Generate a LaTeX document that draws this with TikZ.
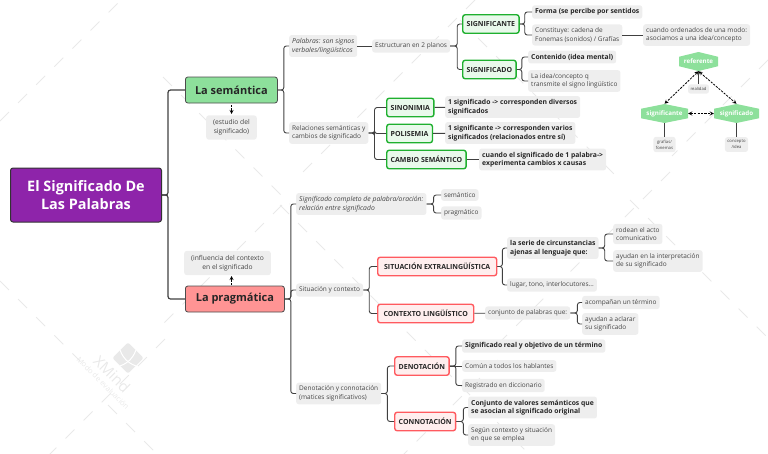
\documentclass[tikz,border=0pt]{standalone}
\usepackage{fontspec}
\setmainfont{Open Sans}
\usetikzlibrary{calc}
\definecolor{rootpurple}{HTML}{8E24AA}
\definecolor{maingreen}{HTML}{8DE09B}
\definecolor{mainred}{HTML}{FF9494}
\definecolor{subgreen}{HTML}{1FB02F}
\definecolor{subgreenfill}{HTML}{E9F9EB}
\definecolor{subred}{HTML}{FF5A5F}
\definecolor{subredfill}{HTML}{FFEEEE}
\definecolor{notegray}{HTML}{EEEEEE}
\definecolor{inkgray}{HTML}{444444}
\definecolor{markgray}{HTML}{E9E9E9}
\tikzset{
  rootbox/.style={anchor=west,draw=black!80,line width=1pt,fill=rootpurple,rounded corners=2.5pt,text=white,align=center,font=\fontsize{14.4}{18}\selectfont\bfseries,minimum width=151pt,minimum height=54pt},
  mainbox/.style={anchor=west,draw=black!70,line width=.8pt,rounded corners=2.5pt,text=black!85,font=\fontsize{11}{13}\selectfont\bfseries,minimum height=26pt},
  subbox/.style={anchor=west,line width=1.4pt,rounded corners=2.5pt,text=black!85,font=\fontsize{7}{8}\selectfont\bfseries,minimum height=18.5pt,inner xsep=4pt},
  greenbox/.style={subbox,draw=subgreen,fill=subgreenfill},
  redbox/.style={subbox,draw=subred,fill=subredfill},
  note/.style={anchor=west,fill=notegray,rounded corners=2.5pt,text=inkgray,align=left,font=\fontsize{6.5}{8.5}\selectfont,inner xsep=3pt,inner ysep=3.3pt},
  boldnote/.style={note,text=black!85,font=\fontsize{6.8}{8.5}\selectfont\bfseries},
  slantnote/.style={note,font=\fontsize{6.8}{8.5}\selectfont\itshape},
  asidenote/.style={note,align=center,font=\fontsize{6.7}{8.5}\selectfont,inner xsep=7pt,inner ysep=4.5pt},
  tinynote/.style={note,align=center,anchor=center,font=\fontsize{4.2}{6}\selectfont,inner xsep=2.5pt,inner ysep=3pt},
  hexnode/.style={anchor=center,text=white,font=\fontsize{6.2}{8}\selectfont\bfseries,minimum height=19pt,
    path picture={\fill[maingreen] (path picture bounding box.north)
      -- ($(path picture bounding box.north east)!.25!(path picture bounding box.south east)$)
      -- ($(path picture bounding box.north east)!.75!(path picture bounding box.south east)$)
      -- (path picture bounding box.south)
      -- ($(path picture bounding box.north west)!.75!(path picture bounding box.south west)$)
      -- ($(path picture bounding box.north west)!.25!(path picture bounding box.south west)$)
      -- cycle;}},
  link/.style={draw=black!75,line width=.9pt,rounded corners=2.5pt,to path={-- ++(#1,0) |- (\tikztotarget)}},
  wire/.style={draw=black!75,line width=.9pt},
  hint/.style={black,line width=.8pt,dash pattern=on 2.2pt off 1.2pt,>=stealth},
  trialmark/.style={markgray,line width=.8pt,dash pattern=on 12.7pt off 12.9pt}
}
\begin{document}
\begin{tikzpicture}[x=1pt,y=-1pt]
  \useasboundingbox (0,0) rectangle (768,453);

  % marks of the trial version
  \foreach \xa/\ya/\xb/\yb in {0/121/121/0,475/0/298/177,282/205/160/327,165/339/0/504,
    768/60/672/156,670/172/500/342,498/360/400/458,163/77/290/204,280/205/530/455,460/20/620/180,
    630/200/768/338,0/281/80/361,108/405/156/453}
    \draw[trialmark] (\xa,\ya) -- (\xb,\yb);
  \node[fill=markgray,rounded corners=2pt,rotate=45,minimum size=22pt,inner sep=0pt] (logo) at (128,358) {};
  \draw[white,line width=1pt] (logo.north) to[bend right=25] (logo.south);
  \draw[white,line width=1pt] (logo.east) to[bend left=25] (logo.west);
  \node[rotate=-45,text=markgray,font=\fontsize{15}{15}\selectfont] (xmind) at (112,374) {XMind};
  \node[rotate=-45,text=markgray,font=\fontsize{7.5}{8}\selectfont] (trial) at (103,383) {Modo de evaluación};

  % left part
  \node[rootbox] (root) at (10,195) {El Significado De\\Las Palabras};
  \node[mainbox,fill=maingreen,minimum width=92pt] (sem) at (185,90) {La semántica};
  \node[mainbox,fill=mainred,minimum width=99pt] (prag) at (185,299) {La pragmática};
  \node[asidenote] (study) at (206,127.5) {(estudio del\\significado)};
  \node[asidenote] (influence) at (184,263) {(influencia del contexto\\en el significado};
  \draw[link=6,line width=1.2pt] (root.east) to (sem.west);
  \draw[link=6,line width=1.2pt] (root.east) to (prag.west);
  \draw[->,hint] (231.5,105) -- (231.5,114);
  \draw[->,hint] (231.5,285) -- (231.5,276);

  % semantics
  \node[slantnote] (words) at (289,46) {Palabras: son signos\\verbales/lingüísticos};
  \node[note] (planes) at (372,46) {Estructuran en 2 planos};
  \node[greenbox] (signifier) at (462,24) {SIGNIFICANTE};
  \node[greenbox] (signified) at (462,69.5) {SIGNIFICADO};
  \node[boldnote] (form) at (532,12) {Forma (se percibe por sentidos};
  \node[note] (phonemes) at (532,35) {Constituye: cadena de\\Fonemas (sonidos) / Grafías};
  \node[note] (ordered) at (643,35) {cuando ordenados de una modo:\\asociamos a una idea/concepto};
  \node[boldnote] (content) at (528,57) {Contenido (idea mental)};
  \node[note] (idea) at (528,81) {La idea/concepto q\\transmite el signo lingüístico};
  \node[note] (relations) at (289,133) {Relaciones semánticas y\\cambios de significado};
  \node[greenbox] (synonymy) at (386,107.5) {SINONIMIA};
  \node[greenbox] (polysemy) at (386,133.5) {POLISEMIA};
  \node[greenbox] (change) at (386,159.5) {CAMBIO SEMÁNTICO};
  \node[boldnote] (syntext) at (445,107) {1 significado -> corresponden diversos\\significados};
  \node[boldnote] (poltext) at (445,133) {1 significante -> corresponden varios\\significados (relacionados entre sí)};
  \node[boldnote] (chatext) at (479,159.5) {cuando el significado de 1 palabra->\\experimenta cambios x causas};
  \draw[link=6] (sem.east) to (words.west);
  \draw[link=6] (sem.east) to (relations.west);
  \draw[wire] (words) -- (planes);
  \draw[link=7] (planes.east) to (signifier.west);
  \draw[link=7] (planes.east) to (signified.west);
  \draw[link=5] (signifier.east) to (form.west);
  \draw[link=5] (signifier.east) to (phonemes.west);
  \draw[wire] (phonemes) -- (ordered);
  \draw[link=5] (signified.east) to (content.west);
  \draw[link=5] (signified.east) to (idea.west);
  \draw[link=6] (relations.east) to (synonymy.west);
  \draw[link=6] (relations.east) to (polysemy.west);
  \draw[link=6] (relations.east) to (change.west);
  \draw[wire] (synonymy) -- (syntext);
  \draw[wire] (polysemy) -- (poltext);
  \draw[wire] (change) -- (chatext);

  % sign triangle
  \node[hexnode,minimum width=39pt] (referent) at (698.5,61.5) {referente};
  \node[hexnode,minimum width=47pt] (signifierhex) at (664.5,113.5) {significante};
  \node[hexnode,minimum width=45pt] (signifiedhex) at (736.5,113.5) {significado};
  \node[tinynote] (reality) at (698.5,89) {realidad};
  \node[tinynote] (spellings) at (664.5,144.5) {grafías/\\fonemas};
  \node[tinynote] (concept) at (736.5,144.5) {concepto\\/idea};
  \draw[wire] (referent) -- (reality);
  \draw[wire] (signifierhex) -- (spellings);
  \draw[wire] (signifiedhex) -- (concept);
  \draw[<->,hint] (referent.south) -- (signifierhex.north);
  \draw[<->,hint] (referent.south) -- (signifiedhex.north);
  \draw[<->,hint] (signifierhex.east) -- (signifiedhex.west);

  % pragmatics
  \node[slantnote] (complete) at (296,204) {Significado completo de palabra/oración:\\relación entre significado};
  \node[note] (semantic) at (441,195) {semántico};
  \node[note] (pragmatic) at (441,213) {pragmático};
  \node[note] (situation) at (296,290) {Situación y contexto};
  \node[redbox,minimum width=119pt] (extra) at (377,266.5) {SITUACIÓN EXTRALINGÜÍSTICA};
  \node[redbox,minimum width=96pt] (linguistic) at (377,313.5) {CONTEXTO LINGÜÍSTICO};
  \node[boldnote] (series) at (507,248) {la serie de circunstancias\\ajenas al lenguaje que:};
  \node[note] (place) at (507,285) {lugar, tono, interlocutores...};
  \node[note] (surround) at (613,234) {rodean el acto\\comunicativo};
  \node[note] (helps) at (613,261) {ayudan en la interpretación\\de su significado};
  \node[note] (wordset) at (485,313) {conjunto de palabras que:};
  \node[note] (accompany) at (582,302.5) {acompañan un término};
  \node[note] (clarify) at (582,324) {ayudan a aclarar\\su significado};
  \node[note] (denconn) at (296,393.5) {Denotación y connotación\\(matices significativos)};
  \node[redbox] (denotation) at (394,366) {DENOTACIÓN};
  \node[redbox] (connotation) at (394,421.5) {CONNOTACIÓN};
  \node[boldnote] (real) at (462,346) {Significado real y objetivo de un término};
  \node[note] (common) at (462,366) {Común a todos los hablantes};
  \node[note] (dictionary) at (462,385.5) {Registrado en diccionario};
  \node[boldnote] (values) at (468,407.5) {Conjunto de valores semánticos que\\se asocian al significado original};
  \node[note] (according) at (468,435) {Según contexto y situación\\en que se emplea};
  \draw[link=6] (prag.east) to (complete.west);
  \draw[link=6] (prag.east) to (situation.west);
  \draw[link=6] (prag.east) to (denconn.west);
  \draw[link=7] (complete.east) to (semantic.west);
  \draw[link=7] (complete.east) to (pragmatic.west);
  \draw[link=6] (situation.east) to (extra.west);
  \draw[link=6] (situation.east) to (linguistic.west);
  \draw[link=5] (extra.east) to (series.west);
  \draw[link=5] (extra.east) to (place.west);
  \draw[link=6] (series.east) to (surround.west);
  \draw[link=6] (series.east) to (helps.west);
  \draw[wire] (linguistic) -- (wordset);
  \draw[link=7] (wordset.east) to (accompany.west);
  \draw[link=7] (wordset.east) to (clarify.west);
  \draw[link=6] (denconn.east) to (denotation.west);
  \draw[link=6] (denconn.east) to (connotation.west);
  \draw[link=6] (denotation.east) to (real.west);
  \draw[wire] (denotation) -- (common);
  \draw[link=6] (denotation.east) to (dictionary.west);
  \draw[link=7] (connotation.east) to (values.west);
  \draw[link=7] (connotation.east) to (according.west);
\end{tikzpicture}
\end{document}
